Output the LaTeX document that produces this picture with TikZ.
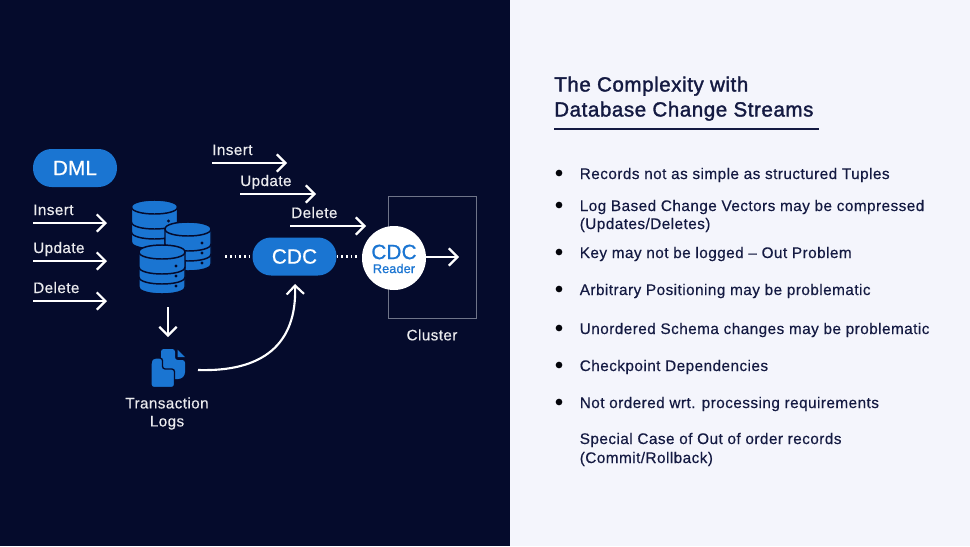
\documentclass[tikz,border=0pt]{standalone}
\usepackage{fontspec}
\setmainfont[LetterSpace=2.9,FakeBold=0.35]{Liberation Sans}
\newfontfamily\headfont[FakeBold=1.6,LetterSpace=2.8]{Liberation Sans}
\newfontfamily\pillfont[FakeBold=0.8,LetterSpace=1]{Liberation Sans}
\usepackage{xcolor}
\usetikzlibrary{positioning,arrows.meta}
\definecolor{panel}{HTML}{050B2C}
\definecolor{paper}{HTML}{F4F5FC}
\definecolor{azure}{HTML}{1A75D2}
\definecolor{ink}{HTML}{141A42}
\definecolor{frame}{HTML}{6F7489}
\tikzset{
	flow/.style={->,>={Straight Barb[length=6.5pt,width=13pt,line width=1.6pt]},draw=white,line width=1.6pt},
	dots/.style={draw=white,line width=1.7pt,dash pattern=on 1.2pt off 2.3pt},
	pill/.style={fill=azure,rounded corners=14pt,minimum width=63pt,minimum height=28.5pt,inner sep=0pt,text=white,font=\pillfont\fontsize{15.5}{15.5}\selectfont},
	lbl/.style={text=white!92!panel,font=\fontsize{11.4}{13}\selectfont,inner sep=0pt,anchor=base west},
	itemtxt/.style={text=ink,font=\fontsize{11.5}{13}\selectfont,inner sep=0pt,anchor=base west},
	dotitem/.style={circle,fill=black!85!ink,minimum size=5pt,inner sep=0pt},
	pics/dbstack/.style={code={
		\foreach \c in {27,17,7}{
			\filldraw[fill=azure,draw=panel,line width=1.1pt] (-23,\c) .. controls (-23,\c-9.33) and (23,\c-9.33) .. (23,\c) -- (23,\c+15) .. controls (23,\c+24.33) and (-23,\c+24.33) .. (-23,\c+15) -- cycle;
			\draw[panel,line width=1.1pt] (-23,\c) .. controls (-23,\c+9.33) and (23,\c+9.33) .. (23,\c);
			\fill[panel] (14,\c+14) circle (1.2pt);
		}
	}}
}
\begin{document}
\begin{tikzpicture}[x=0.75pt,y=-0.75pt]
	% two panels
	\fill[panel] (0,0) rectangle (510,546);
	\fill[paper] (510,0) rectangle (970,546);

	% left side, DML
	\node[pill] (dml) at (75,168) {DML};
	\node[lbl] (insA) at (33,215) {Insert};
	\node[lbl] (updA) at (33,253) {Update};
	\node[lbl] (delA) at (33,293) {Delete};
	\coordinate (insAs) at (33,223); \coordinate (insAe) at (107,223);
	\coordinate (updAs) at (33,261); \coordinate (updAe) at (107,261);
	\coordinate (delAs) at (33,301); \coordinate (delAe) at (107,301);
	\draw[flow] (insAs) -- (insAe);
	\draw[flow] (updAs) -- (updAe);
	\draw[flow] (delAs) -- (delAe);

	% database icons
	\pic at (154.5,200) {dbstack};
	\pic at (188,222) {dbstack};
	\pic at (162,245) {dbstack};
	\node[inner sep=0pt,minimum width=59.25pt,minimum height=70.5pt] (dbs) at (171.5,247) {};

	% log icon
	\fill[azure,rounded corners=2pt] (161,349) -- (175,349) -- (175,360) -- (185,360) -- (185,375) -- (181,379) -- (170,379) -- (161,365) -- cycle;
	\fill[azure] (177.5,349.5) -- (185,357) -- (177.5,357) -- cycle;
	\filldraw[fill=azure,draw=panel,line width=1pt,rounded corners=2pt] (151,361) -- (153,358) -- (162.5,358) -- (162.5,369) -- (174.5,369) -- (174.5,387.5) -- (151,387.5) -- cycle;
	\fill[azure] (165.5,359.5) -- (173.5,367) -- (165.5,367) -- cycle;
	\node[text=white!92!panel,font=\fontsize{11.4}{13.5}\selectfont,align=center,inner sep=0pt] (logs) at (167,413.5) {Transaction\\Logs};

	\coordinate (dbout) at (168,307);
	\coordinate (logsin) at (168,337);
	\draw[flow] (dbout) -- (logsin);

	% CDC and reader
	\node[pill] (cdc) at (294.5,256.5) {CDC};
	\node[draw=frame,line width=0.6pt,minimum width=66pt,minimum height=91.5pt,inner sep=0pt] (cluster) at (432,257) {};
	\node[lbl,anchor=north,node distance=8pt] (clusterlbl) [below=of cluster] {Cluster};
	\node[circle,fill=white,minimum size=48pt,inner sep=0pt] (reader) at (394,258) {};
	\node[text=azure,font=\pillfont\fontsize{15.5}{15.5}\selectfont,inner sep=0pt] (readerA) at (394,252) {CDC};
	\node[text=azure,font=\pillfont\fontsize{9.5}{10}\selectfont,inner sep=0pt] (readerB) at (394,268.5) {Reader};

	\draw[dots,shorten <=10.5pt,shorten >=1.5pt] (dbs.east |- cdc.west) -- (cdc.west);
	\draw[dots,shorten >=1.5pt] (cdc.east) -- (reader.west |- cdc.east);

	\coordinate (logsout) at (198,370);
	\coordinate (cdcin) at (295,284);
	\draw[flow] (logsout) .. controls (262,372) and (297,345) .. (cdcin);

	\coordinate (readerout) at (459,257);
	\draw[flow] (reader.east |- readerout) -- (readerout);

	% change labels
	\node[lbl] (insB) at (212,155) {Insert};
	\node[lbl] (updB) at (240,186) {Update};
	\node[lbl] (delB) at (291,218) {Delete};
	\coordinate (insBs) at (212,163); \coordinate (insBe) at (287,163);
	\coordinate (updBs) at (240,194); \coordinate (updBe) at (316,194);
	\coordinate (delBs) at (290,226); \coordinate (delBe) at (366,226);
	\draw[flow] (insBs) -- (insBe);
	\draw[flow] (updBs) -- (updBe);
	\draw[flow] (delBs) -- (delBe);

	% right side
	\node[itemtxt,font=\headfont\fontsize{15.4}{18}\selectfont] (titleA) at (554,91.5) {The Complexity with};
	\node[itemtxt,font=\headfont\fontsize{15.4}{18}\selectfont] (titleB) at (554,116.5) {Database Change Streams};
	\coordinate (ruleA) at (554,129);
	\coordinate (ruleB) at (819,129);
	\draw[ink,line width=0.8pt] (ruleA) -- (ruleB);

	\foreach \n/\y/\t in {
		1/179/{Records not as simple as structured Tuples},
		2/211/{Log Based Change Vectors may be compressed},
		3/229/{(Updates/Deletes)},
		4/258/{Key may not be logged -- Out Problem},
		5/295/{Arbitrary Positioning may be problematic},
		6/334/{Unordered Schema changes may be problematic},
		7/371/{Checkpoint Dependencies},
		8/408/{Not ordered wrt. processing requirements},
		9/444/{Special Case of Out of order records},
		10/463/{(Commit/Rollback)}}
		\node[itemtxt] (item\n) at (579.5,\y) {\t};

	\foreach \m/\y in {1/173,2/205,3/252,4/289,5/328,6/365,7/402}
		\node[dotitem] (dot\m) at (559,\y) {};
\end{tikzpicture}
\end{document}
